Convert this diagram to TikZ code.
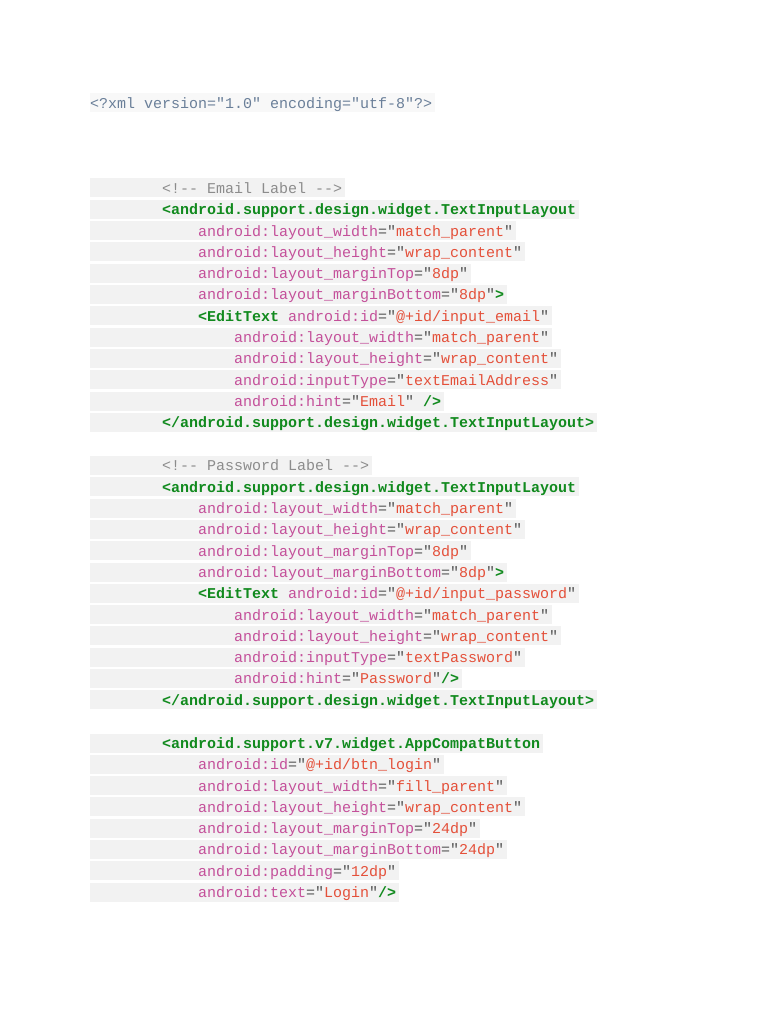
\documentclass[tikz,border=0pt]{standalone}
\usepackage{fontspec}
\setmonofont{Liberation Mono}
\definecolor{tagc}{HTML}{118A1E}
\definecolor{attc}{HTML}{C4509A}
\definecolor{valc}{HTML}{E4503A}
\definecolor{qc}{HTML}{555555}
\definecolor{cmc}{HTML}{8C8C8C}
\definecolor{xmlc}{HTML}{6A7F99}
\definecolor{bgc}{HTML}{F2F2F2}
\newcommand{\tg}[1]{\textcolor{tagc}{\textbf{#1}}}
\newcommand{\at}[1]{\textcolor{attc}{#1}}
\newcommand{\vl}[1]{\textcolor{qc}{="}\textcolor{valc}{#1}\textcolor{qc}{"}}
\newcommand{\ind}[1]{\hspace*{\dimexpr #1\dimexpr 9pt\relax\relax}}
\begin{document}
\begin{tikzpicture}[x=1pt,y=1pt,
  cl/.style={anchor=west,fill=bgc,inner xsep=0pt,inner ysep=0pt,minimum height=19pt,
    font=\ttfamily\fontsize{15}{15}\selectfont,text depth=0pt,outer sep=0pt}]
\useasboundingbox[fill=white] (0,0) rectangle (768,-1024);
\node[cl,fill=bgc!50] (x0) at (90,-103) {\textcolor{xmlc}{<?xml version="1.0" encoding="utf-8"?>}\ind{0.3}};
\def\L{21.3}
% block 1
\node[cl] (a1) at (90,-188) {\ind{8}\textcolor{cmc}{<!-{}- Email Label -{}->}\ind{0.3}};
\node[cl] (a2) at (90,-209.3) {\ind{8}\tg{<android.support.design.widget.TextInputLayout}\ind{0.3}};
\node[cl] (a3) at (90,-230.6) {\ind{12}\at{android:layout\_width}\vl{match\_parent}\ind{0.3}};
\node[cl] (a4) at (90,-251.9) {\ind{12}\at{android:layout\_height}\vl{wrap\_content}\ind{0.3}};
\node[cl] (a5) at (90,-273.2) {\ind{12}\at{android:layout\_marginTop}\vl{8dp}\ind{0.3}};
\node[cl] (a6) at (90,-294.5) {\ind{12}\at{android:layout\_marginBottom}\vl{8dp}\tg{>}\ind{0.3}};
\node[cl] (a7) at (90,-315.8) {\ind{12}\tg{<EditText} \at{android:id}\vl{@+id/input\_email}\ind{0.3}};
\node[cl] (a8) at (90,-337.1) {\ind{16}\at{android:layout\_width}\vl{match\_parent}\ind{0.3}};
\node[cl] (a9) at (90,-358.4) {\ind{16}\at{android:layout\_height}\vl{wrap\_content}\ind{0.3}};
\node[cl] (a10) at (90,-379.7) {\ind{16}\at{android:inputType}\vl{textEmailAddress}\ind{0.3}};
\node[cl] (a11) at (90,-401.0) {\ind{16}\at{android:hint}\vl{Email} \tg{/>}\ind{0.3}};
\node[cl] (a12) at (90,-422.3) {\ind{8}\tg{</android.support.design.widget.TextInputLayout>}\ind{0.3}};
% block 2
\node[cl] (b1) at (90,-465.5) {\ind{8}\textcolor{cmc}{<!-{}- Password Label -{}->}\ind{0.3}};
\node[cl] (b2) at (90,-486.8) {\ind{8}\tg{<android.support.design.widget.TextInputLayout}\ind{0.3}};
\node[cl] (b3) at (90,-508.1) {\ind{12}\at{android:layout\_width}\vl{match\_parent}\ind{0.3}};
\node[cl] (b4) at (90,-529.4) {\ind{12}\at{android:layout\_height}\vl{wrap\_content}\ind{0.3}};
\node[cl] (b5) at (90,-550.7) {\ind{12}\at{android:layout\_marginTop}\vl{8dp}\ind{0.3}};
\node[cl] (b6) at (90,-572.0) {\ind{12}\at{android:layout\_marginBottom}\vl{8dp}\tg{>}\ind{0.3}};
\node[cl] (b7) at (90,-593.3) {\ind{12}\tg{<EditText} \at{android:id}\vl{@+id/input\_password}\ind{0.3}};
\node[cl] (b8) at (90,-614.6) {\ind{16}\at{android:layout\_width}\vl{match\_parent}\ind{0.3}};
\node[cl] (b9) at (90,-635.9) {\ind{16}\at{android:layout\_height}\vl{wrap\_content}\ind{0.3}};
\node[cl] (b10) at (90,-657.2) {\ind{16}\at{android:inputType}\vl{textPassword}\ind{0.3}};
\node[cl] (b11) at (90,-678.5) {\ind{16}\at{android:hint}\vl{Password}\tg{/>}\ind{0.3}};
\node[cl] (b12) at (90,-699.8) {\ind{8}\tg{</android.support.design.widget.TextInputLayout>}\ind{0.3}};
% block 3
\node[cl] (c1) at (90,-743.0) {\ind{8}\tg{<android.support.v7.widget.AppCompatButton}\ind{0.3}};
\node[cl] (c2) at (90,-764.3) {\ind{12}\at{android:id}\vl{@+id/btn\_login}\ind{0.3}};
\node[cl] (c3) at (90,-785.6) {\ind{12}\at{android:layout\_width}\vl{fill\_parent}\ind{0.3}};
\node[cl] (c4) at (90,-806.9) {\ind{12}\at{android:layout\_height}\vl{wrap\_content}\ind{0.3}};
\node[cl] (c5) at (90,-828.2) {\ind{12}\at{android:layout\_marginTop}\vl{24dp}\ind{0.3}};
\node[cl] (c6) at (90,-849.5) {\ind{12}\at{android:layout\_marginBottom}\vl{24dp}\ind{0.3}};
\node[cl] (c7) at (90,-870.8) {\ind{12}\at{android:padding}\vl{12dp}\ind{0.3}};
\node[cl] (c8) at (90,-892.1) {\ind{12}\at{android:text}\vl{Login}\tg{/>}\ind{0.3}};
\end{tikzpicture}
\end{document}
